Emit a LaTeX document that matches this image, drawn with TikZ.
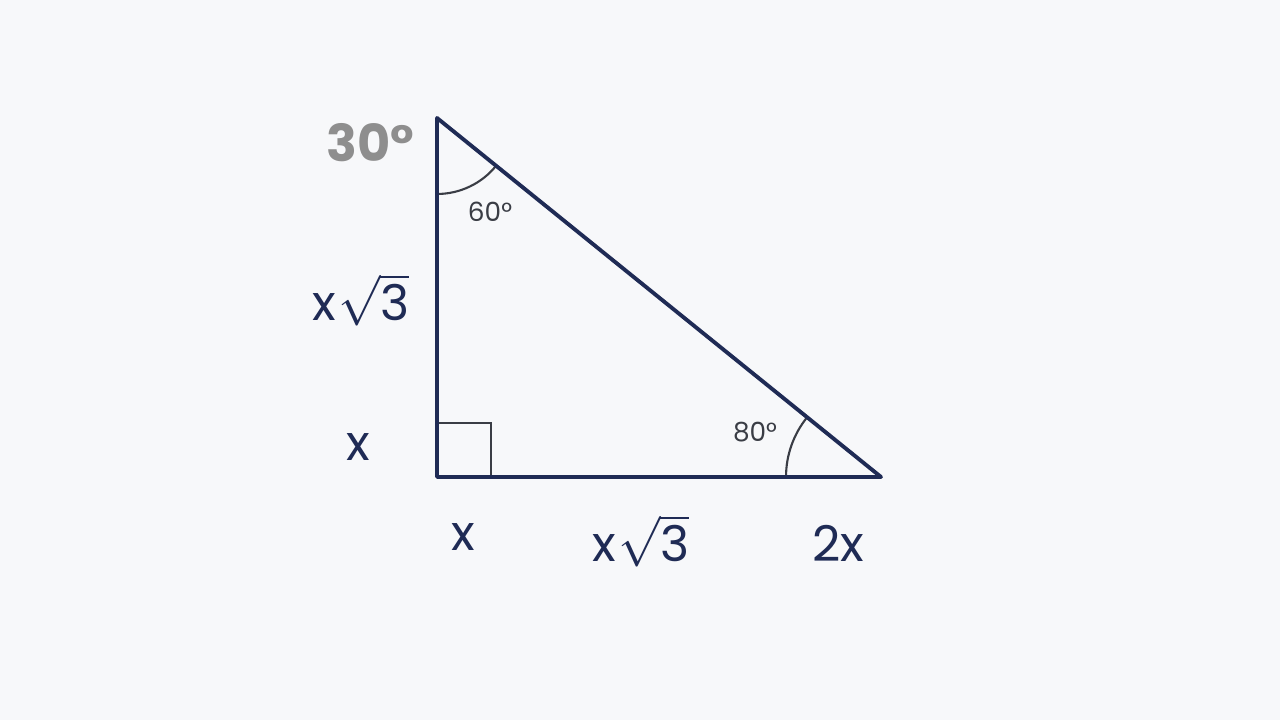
\documentclass[tikz,border=0pt]{standalone}
\usepackage{fontspec}
\setmainfont{Poppins}
\usetikzlibrary{calc}
\definecolor{navy}{HTML}{1F2B55}
\definecolor{bgcol}{HTML}{F7F8FA}
\definecolor{arcgray}{HTML}{3A3D45}
\definecolor{labgray}{HTML}{8E8E8E}
\newcommand{\rtthree}{x\kern0.5pt$\sqrt{\hbox{3}}$}
\begin{document}
\begin{tikzpicture}[
    side/.style={text=navy, font=\fontsize{14}{16}\selectfont},
    anglab/.style={text=arcgray, font=\fontsize{7.5}{9}\selectfont},
    leg/.style={draw=navy, line width=1.1pt, line join=round},
    arcline/.style={draw=arcgray, line width=0.6pt}]
    \useasboundingbox[fill=bgcol] (0,0) rectangle (12.8,7.2);

    % vertices
    \coordinate (A) at (4.37,6.02);
    \coordinate (B) at (4.37,2.43);
    \coordinate (C) at (8.81,2.43);

    % angle marks
    \draw[arcline] ($(A)+(0,-0.76)$) arc (-90:-38.96:0.76);
    \draw[arcline] ($(C)+(-0.95,0)$) arc (180:141.04:0.95);
    \draw[arcline] ($(B)+(0,0.54)$) -| ($(B)+(0.54,0)$);

    \draw[leg] (A) -- (B) -- (C) -- cycle;

    % labels
    \node[text=labgray, font=\fontsize{14.5}{16}\selectfont\bfseries] (topang) at (3.70,5.77) {30°};
    \node[anglab] (angA) at (4.90,5.08) {60°};
    \node[anglab] (angC) at (7.55,2.88) {80°};

    \node[side] (leftlong) at (3.61,4.20) {\rtthree};
    \node[side] (leftshort) at (3.58,2.73) {x};
    \node[side] (baseshort) at (4.63,1.83) {x};
    \node[side] (baselong) at (6.41,1.79) {\rtthree};
    \node[side] (hyp) at (8.38,1.77) {2x};
\end{tikzpicture}
\end{document}
